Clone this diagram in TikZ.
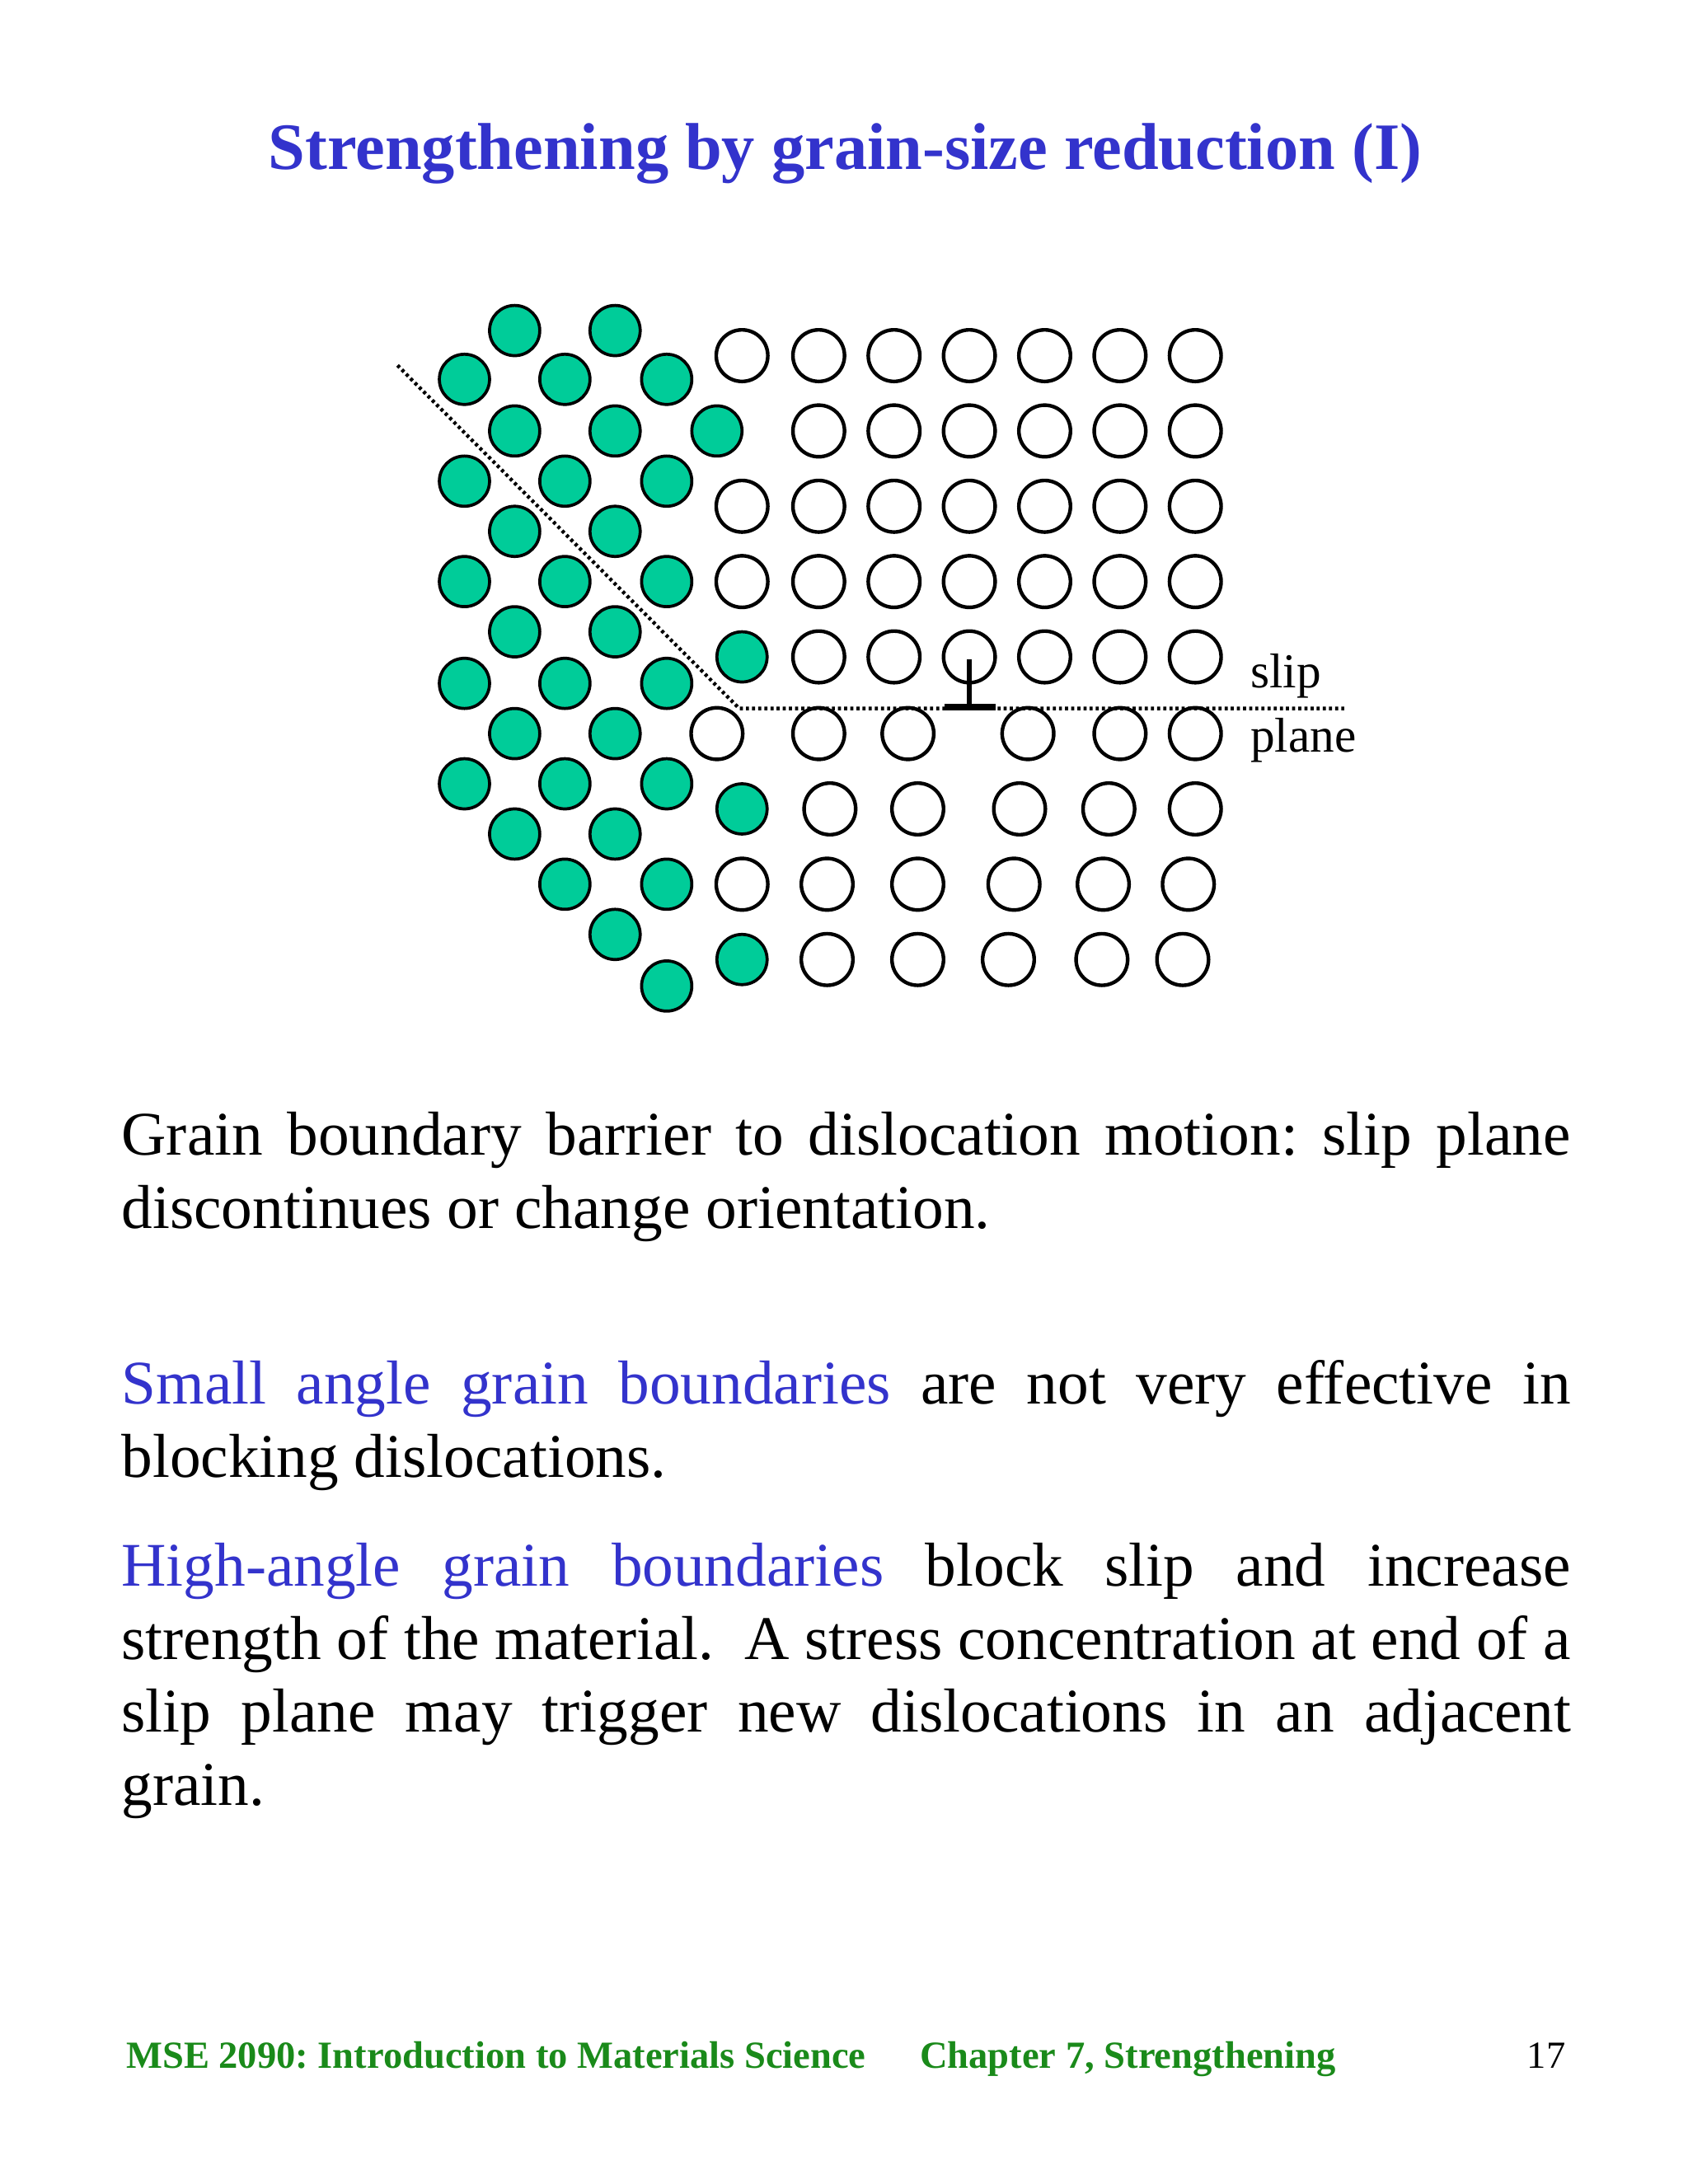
\documentclass[tikz,border=0pt]{standalone}
\usepackage{fontspec}
\setmainfont{Liberation Serif}
\definecolor{grn}{HTML}{00CC99}
\definecolor{ttl}{HTML}{3333CC}
\definecolor{foot}{HTML}{1A8A1A}
\hyphenpenalty=10000
\exhyphenpenalty=10000
\begin{document}
\frenchspacing
\begin{tikzpicture}[x=1pt,y=-1pt,
  gat/.style={circle,draw=black,line width=2.2pt,fill=grn,minimum width=34pt,minimum height=36pt,inner sep=0pt},
  oat/.style={circle,draw=black,line width=2.6pt,fill=white,minimum width=34pt,minimum height=37pt,inner sep=0pt},
  body/.style={anchor=north west,text width=1039pt,align=justify,inner sep=0pt,font=\fontsize{44.5}{52.5}\selectfont},
  foottxt/.style={anchor=base west,font=\fontsize{27.5}{30}\selectfont\bfseries,text=foot},
  dots/.style={line width=2.6pt,dash pattern=on 2.2pt off 2.2pt}]
\useasboundingbox[fill=white] (0,0) rectangle (1210,1566);
\node[font=\fontsize{47.5}{50}\selectfont\bfseries,text=ttl] (title) at (606,110) {Strengthening by grain-size reduction (I)};
% green grain
\foreach \yy/\xs in {237/{369,441},272/{333,405,478},309/{369,441,514},345/{333,405,478},381/{369,441},417/{333,405,478},453/{369,441},490/{333,405,478},526/{369,441},562/{333,405,478},598/{369,441},634/{405,478},670/{441},707/{478}}
  \foreach \xx in \xs \node[gat] at (\xx,\yy) {};
% open grain
\foreach \yy/\xs in {255/{532,587,641,695,749,803,857},309/{587,641,695,749,803,857},363/{532,587,641,695,749,803,857},417/{532,587,641,695,749,803,857},471/{587,641,695,749,803,857},526/{514,587,651,737,803,857},580/{595,658,731,795,857},634/{532,593,658,727,791,852},688/{593,658,723,790,848}}
  \foreach \xx in \xs \node[oat] at (\xx,\yy) {};
\foreach \yy in {471,580,688} \node[gat] at (532,\yy) {};
% boundary and slip plane
\coordinate (b1) at (285,262);
\coordinate (b2) at (530,508);
\coordinate (b3) at (965,508);
\draw[dots] (b1) -- (b2) -- (b3);
\coordinate (d1) at (695,473);
\coordinate (d2) at (695,507);
\draw[line width=3.5pt] (d1) -- (d2);
\draw[line width=5pt] (677,507) -- (714,507);
\node[anchor=west,font=\fontsize{35}{36}\selectfont] (slip) at (893,485) {slip};
\node[anchor=west,font=\fontsize{35}{36}\selectfont] (plane) at (893,531) {plane};
% text
\node[body] (p1) at (87,797) {Grain boundary barrier to dislocation motion: slip plane\linebreak discontinues or change orientation.};
\node[body] (p2) at (87,975) {\textcolor{ttl}{Small angle grain boundaries} are not very effective in\linebreak blocking dislocations.};
\node[body] (p3) at (87,1106) {\textcolor{ttl}{High-angle grain boundaries} block slip and increase\linebreak strength of the material.\ \ A stress concentration at end of a\linebreak slip plane may trigger new dislocations in an adjacent\linebreak grain.};
% footer
\node[foottxt] (f1) at (87,1483) {MSE 2090: Introduction to Materials Science};
\node[foottxt] (f2) at (656,1483) {Chapter 7, Strengthening};
\node[anchor=base east,font=\fontsize{27.5}{30}\selectfont] (f3) at (1126,1483) {17};
\end{tikzpicture}
\end{document}
